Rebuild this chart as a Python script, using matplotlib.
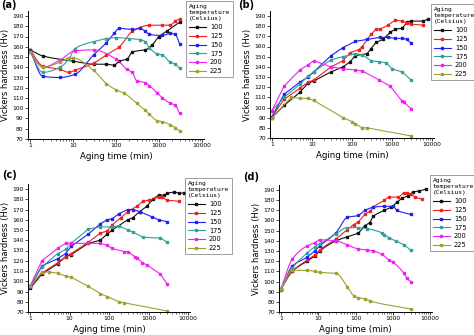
import numpy as np
import matplotlib
matplotlib.use("Agg")
import matplotlib.pyplot as plt
from matplotlib.ticker import LogLocator, NullFormatter, FixedLocator

temps = ["100", "125", "150", "175", "200", "225"]
colors = ["#111111", "#f02020", "#2020f0", "#30a098", "#f020f0", "#a0a030"]

# ---- panel (a) ----
a_t100 = [1, 2, 10, 30, 60, 90, 120, 180, 240, 480, 700, 1000, 1500, 3000]
a_h100 = [157, 151, 146, 143, 143, 142, 146, 148, 155, 157, 162, 170, 175, 184]
a_t125 = [1, 2, 5, 8, 11, 30, 60, 120, 240, 600, 1200, 1800, 2400, 3000]
a_h125 = [157, 141, 138, 135, 137, 144, 152, 160, 175, 181, 181, 181, 185, 187]
a_t150 = [1, 2, 5, 11, 30, 60, 90, 120, 240, 360, 480, 600, 1200, 1800, 2400, 3000]
a_h150 = [157, 131, 130, 133, 152, 164, 173, 178, 177, 178, 175, 172, 171, 173, 172, 163]
a_t175 = [1, 2, 5, 8, 11, 30, 60, 100, 200, 360, 480, 600, 900, 1200, 1800, 2400, 3000]
a_h175 = [155, 135, 140, 148, 158, 165, 168, 169, 168, 167, 165, 159, 153, 152, 145, 143, 139]
a_t200 = [1, 2, 5, 11, 30, 100, 180, 240, 300, 480, 600, 900, 1200, 1800, 2400, 3000]
a_h200 = [155, 140, 147, 156, 157, 148, 138, 135, 127, 125, 122, 115, 110, 105, 103, 95]
a_t225 = [1, 2, 5, 8, 10, 30, 60, 100, 150, 300, 480, 600, 900, 1200, 1800, 2400, 3000]
a_h225 = [155, 140, 145, 149, 149, 137, 124, 118, 115, 105, 98, 94, 88, 87, 84, 81, 78]

# ---- panel (b) ----
b_t100 = [1, 2, 5, 8, 11, 30, 60, 90, 120, 240, 300, 400, 600, 900, 1200, 1800, 2400, 3000, 6000, 8000]
b_h100 = [90, 102, 115, 124, 126, 135, 140, 145, 151, 153, 158, 164, 167, 174, 177, 178, 184, 185, 185, 187]
b_t125 = [1, 2, 5, 8, 11, 30, 60, 90, 150, 180, 300, 400, 500, 800, 1200, 1800, 2400, 3000, 6000]
b_h125 = [91, 108, 119, 125, 127, 140, 146, 154, 157, 160, 172, 177, 177, 181, 186, 185, 183, 182, 181]
b_t150 = [1, 2, 5, 8, 11, 30, 60, 120, 240, 500, 800, 1200, 1800, 2400, 3000]
b_h150 = [91, 113, 125, 130, 135, 151, 159, 165, 167, 169, 169, 168, 168, 167, 163]
b_t175 = [1, 2, 5, 8, 11, 30, 60, 120, 180, 300, 480, 720, 1000, 1800, 3000]
b_h175 = [97, 110, 123, 131, 135, 147, 150, 153, 152, 146, 145, 144, 138, 135, 127]
b_t200 = [1, 2, 5, 8, 11, 30, 60, 120, 180, 480, 900, 1800, 2000, 3000]
b_h200 = [97, 121, 137, 142, 146, 140, 138, 137, 136, 127, 121, 106, 105, 99]
b_t225 = [1, 3, 5, 8, 11, 60, 100, 120, 180, 240, 3000]
b_h225 = [90, 110, 109, 109, 107, 90, 86, 84, 80, 80, 72]

# ---- panel (c) ----
c_t100 = [1, 2, 5, 8, 11, 30, 60, 90, 120, 300, 400, 600, 900, 1300, 1800, 2500, 3000, 4500, 6000, 8000]
c_h100 = [93, 107, 117, 124, 126, 137, 140, 146, 150, 160, 162, 168, 173, 180, 184, 184, 186, 187, 186, 186]
c_t125 = [1, 2, 5, 8, 11, 30, 60, 90, 120, 200, 300, 500, 720, 1000, 1800, 2200, 3000, 6000]
c_h125 = [95, 108, 118, 124, 127, 138, 147, 149, 155, 162, 168, 173, 178, 179, 182, 182, 179, 178]
c_t150 = [1, 2, 5, 8, 11, 30, 60, 90, 120, 180, 300, 400, 600, 1200, 1800, 3000]
c_h150 = [94, 115, 122, 127, 134, 146, 156, 160, 161, 166, 170, 170, 168, 163, 160, 158]
c_t175 = [1, 2, 5, 8, 11, 30, 60, 120, 180, 300, 400, 720, 2000, 3000]
c_h175 = [95, 114, 127, 131, 137, 151, 153, 153, 154, 150, 148, 143, 142, 138]
c_t200 = [1, 2, 5, 8, 11, 30, 60, 90, 120, 240, 300, 450, 500, 700, 900, 2000, 3000]
c_h200 = [95, 120, 132, 137, 137, 137, 137, 135, 132, 129, 129, 124, 123, 118, 116, 107, 97]
c_t225 = [1, 2, 3, 5, 8, 11, 30, 60, 90, 180, 240, 3000]
c_h225 = [95, 109, 109, 108, 105, 104, 95, 88, 85, 80, 79, 71]

# ---- panel (d) ----
d_t100 = [1, 2, 5, 8, 11, 30, 60, 120, 180, 240, 300, 600, 900, 1300, 1800, 2500, 3600, 5000, 8000]
d_h100 = [93, 110, 120, 125, 130, 140, 144, 148, 155, 158, 164, 170, 173, 178, 182, 184, 188, 189, 191]
d_t125 = [1, 2, 5, 8, 11, 30, 60, 90, 120, 180, 240, 300, 600, 800, 1400, 2000, 2400, 3000, 4000, 6000]
d_h125 = [93, 110, 121, 126, 131, 142, 151, 156, 159, 166, 169, 173, 180, 183, 183, 187, 187, 186, 183, 181]
d_t150 = [1, 2, 5, 8, 11, 30, 60, 120, 180, 300, 600, 1000, 1300, 3000]
d_h150 = [92, 115, 124, 130, 135, 148, 163, 165, 170, 173, 174, 174, 170, 166]
d_t175 = [1, 2, 5, 8, 11, 30, 60, 120, 200, 500, 600, 800, 1200, 2000, 3000]
d_h175 = [92, 113, 128, 134, 137, 147, 153, 153, 152, 148, 146, 143, 140, 136, 131]
d_t200 = [1, 2, 5, 8, 11, 30, 60, 120, 200, 300, 500, 800, 1000, 2000, 2400, 3000]
d_h200 = [93, 122, 135, 138, 141, 140, 136, 132, 131, 130, 127, 121, 119, 108, 103, 100]
d_t225 = [1, 2, 5, 8, 11, 30, 60, 90, 120, 180, 240, 3000]
d_h225 = [93, 111, 111, 110, 109, 108, 95, 86, 84, 83, 81, 73]

panels = [
    ("(a)", [(a_t100, a_h100), (a_t125, a_h125), (a_t150, a_h150), (a_t175, a_h175), (a_t200, a_h200), (a_t225, a_h225)]),
    ("(b)", [(b_t100, b_h100), (b_t125, b_h125), (b_t150, b_h150), (b_t175, b_h175), (b_t200, b_h200), (b_t225, b_h225)]),
    ("(c)", [(c_t100, c_h100), (c_t125, c_h125), (c_t150, c_h150), (c_t175, c_h175), (c_t200, c_h200), (c_t225, c_h225)]),
    ("(d)", [(d_t100, d_h100), (d_t125, d_h125), (d_t150, d_h150), (d_t175, d_h175), (d_t200, d_h200), (d_t225, d_h225)]),
]
smooth = [True, False, False, True]

yticks = list(range(70, 191, 10))
xticks = [1, 10, 100, 1000, 10000]


def pchip(x, y, xs):
    x = np.asarray(x, float); y = np.asarray(y, float)
    h = np.diff(x); d = np.diff(y) / h
    n = len(x)
    m = np.zeros(n)
    for k in range(1, n - 1):
        if d[k - 1] * d[k] > 0:
            w1 = 2 * h[k] + h[k - 1]; w2 = h[k] + 2 * h[k - 1]
            m[k] = (w1 + w2) / (w1 / d[k - 1] + w2 / d[k])
    m[0] = d[0]; m[-1] = d[-1]
    idx = np.clip(np.searchsorted(x, xs) - 1, 0, n - 2)
    t = (xs - x[idx]) / h[idx]
    h00 = 2 * t**3 - 3 * t**2 + 1; h10 = t**3 - 2 * t**2 + t
    h01 = -2 * t**3 + 3 * t**2; h11 = t**3 - t**2
    return h00 * y[idx] + h10 * h[idx] * m[idx] + h01 * y[idx + 1] + h11 * h[idx] * m[idx + 1]


W, H = 474, 335
fig = plt.figure(figsize=(W / 100, H / 100), dpi=100)

# pixel geometry: (px of x=1, px of x=10000, px of y=190, px of y=70)
geo = [(30, 202, 16, 139), (272, 432, 16, 138), (30, 188, 189, 312), (281, 430, 190, 312)]
leg_pos = [(186, 1), (431, 4), (185, 178), (430, 175)]
lab_pos = [(1, 0), (238, 0), (2, 170), (243, 172)]

for i, ((lab, series), (p1, p4, q190, q70)) in enumerate(zip(panels, geo)):
    dec = (p4 - p1) / 4.0
    lo, hi = 0.9, 11000
    left = p1 + np.log10(lo) * dec
    right = p4 + (np.log10(hi) - 4) * dec
    hv = (q70 - q190) / 120.0
    ytop = 195
    top = q190 - (ytop - 190) * hv
    bottom = q70
    ax = fig.add_axes([left / W, 1 - bottom / H, (right - left) / W, (bottom - top) / H])
    ax.set_xscale("log")
    ax.set_xlim(lo, hi)
    ax.set_ylim(70, ytop)
    for (t, h), c, name in zip(series, colors, temps):
        t = np.asarray(t, float); h = np.asarray(h, float)
        if smooth[i]:
            lx = np.log10(t)
            xs = np.linspace(lx[0], lx[-1], 400)
            ys = pchip(lx, h, xs)
            ax.plot(10 ** xs, ys, color=c, lw=0.8)
            ax.plot(t, h, ls="none", marker="s", ms=1.5, color=c)
            ax.plot([], [], color=c, lw=0.8, marker="s", ms=1.5, label=name)
        else:
            ax.plot(t, h, color=c, lw=0.8, marker="s", ms=1.5, label=name)
    for s in ["top", "right"]:
        ax.spines[s].set_visible(False)
    for s in ["left", "bottom"]:
        ax.spines[s].set_linewidth(0.7)
    ax.set_yticks(yticks)
    ax.xaxis.set_major_locator(FixedLocator(xticks))
    ax.set_xticklabels([str(v) for v in xticks])
    ax.xaxis.set_minor_locator(LogLocator(base=10, subs=np.arange(2, 10), numticks=20))
    ax.xaxis.set_minor_formatter(NullFormatter())
    ax.tick_params(axis="both", which="major", labelsize=4.3, length=2.0, width=0.5, pad=1.2, direction="out")
    ax.tick_params(axis="x", which="minor", length=1.2, width=0.4)
    ax.set_xlabel("Aging time (min)", fontsize=6.2, labelpad=2.5)
    ax.set_ylabel("Vickers hardness (Hv)", fontsize=6.0, labelpad=1.5)

    lx0, ly0 = leg_pos[i]
    leg = fig.legend(handles=ax.get_legend_handles_labels()[0], labels=temps,
                     title="Aging\ntemperature\n(Celsius)", loc="upper left",
                     bbox_to_anchor=(lx0 / W, 1 - ly0 / H), fontsize=4.8,
                     title_fontsize=4.5, frameon=True, fancybox=False, edgecolor="#555555",
                     handlelength=2.6, handletextpad=0.6, labelspacing=0.42,
                     borderpad=0.4, borderaxespad=0)
    leg.get_frame().set_linewidth(0.5)
    leg._legend_box.align = "left"
    leg.get_title().set_family("DejaVu Sans Mono")
    leg.get_title().set_linespacing(1.35)

    fig.text(lab_pos[i][0] / W, 1 - lab_pos[i][1] / H, lab, fontsize=7.0, fontweight="bold",
             va="top", ha="left")

fig.savefig("out.png", dpi=100)
